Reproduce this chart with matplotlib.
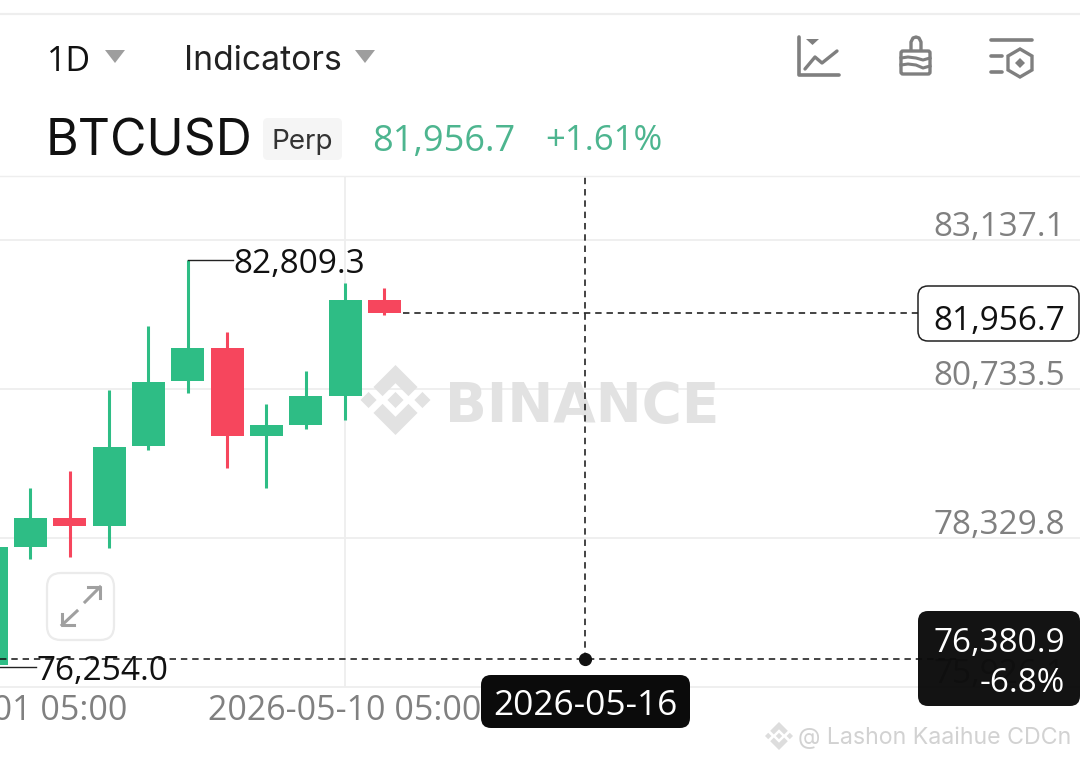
import matplotlib
matplotlib.use("Agg")
import matplotlib.pyplot as plt
from matplotlib.patches import FancyBboxPatch, Polygon
from matplotlib.transforms import blended_transform_factory

plt.rcParams['font.family'] = ['Open Sans', 'DejaVu Sans']
WORDS = ['Inter', 'DejaVu Sans']

# Daily candles
days = [1, 2, 3, 4, 5, 6, 7, 8, 9, 10, 11]
opens = [76281.0, 78184.6, 78652.4, 78523.3, 79813.9, 80862.5, 81394.8, 79975.2, 80152.7, 80620.5, 82169.2]
highs = [78300.0, 79136.4, 79410.6, 80717.3, 81749.8, 82809.3, 81652.9, 80491.5, 81023.8, 82443.4, 82362.8]
lows = [76254.0, 77991.0, 78023.0, 78168.4, 79749.4, 80668.9, 79458.9, 79136.4, 80088.0, 80233.4, 81927.0]
closes = [78184.6, 78652.4, 78523.3, 79797.8, 80846.3, 81394.8, 79975.2, 80152.7, 80620.5, 82169.2, 81956.7]

# Axis values
price_ticks = [83137.1, 80733.5, 78329.8, 75926.1]
price_labels = ["83,137.1", "80,733.5", "78,329.8", "75,926.1"]
date_ticks = [1, 10]
date_labels = ["2026-05-01 05:00", "2026-05-10 05:00"]

# Annotations and crosshair
high_value = 82809.3
low_value = 76254.0
last_price = 81956.7
cross_price = 76380.9
cross_day = 16.09

GREEN = "#2EBD85"
RED = "#F6465D"
GRID = "#EEEEEE"
GREY = "#808080"
ICON = "#7F7F7F"
TEXT = "#111111"
NUM_SIZE = 24

fig = plt.figure(figsize=(10.8, 7.6), dpi=100, facecolor="white")

# chart area runs over the full width, y pixels 177 to 687
ax = fig.add_axes([0, (760 - 687) / 760, 1, 510 / 760], zorder=1)
ax.set_xlim(1.2257, 28.6805)
ax.set_ylim(75926.1, 84153.4)
ax.axis("off")

# overlay in image pixels for the app buttons and labels
ui = fig.add_axes([0, 0, 1, 1], zorder=2)
ui.set_xlim(0, 1080)
ui.set_ylim(760, 0)
ui.axis("off")
ui.patch.set_alpha(0)

# grid
for p in price_ticks:
    ax.axhline(p, color=GRID, lw=1.3, zorder=0, clip_on=False)
ax.axvline(10, color=GRID, lw=1.3, zorder=0)
ui.plot([0, 1080], [14, 14], color=GRID, lw=1.6)
ui.plot([0, 1080], [176, 176], color=GRID, lw=1.0)


def logo(target, cx, cy, r, color):
    # Binance mark from unit shapes
    chevron = [(0, -1), (0.63, -0.37), (0.37, -0.11), (0, -0.48), (-0.37, -0.11), (-0.63, -0.37)]
    for sign in (1, -1):
        pts = [(cx + x * r, cy + sign * y * r) for x, y in chevron]
        target.add_patch(Polygon(pts, closed=True, fc=color, ec="none", transform=ui.transData, zorder=1.5))
    for dx in (-0.77, 0, 0.77):
        pts = [(cx + (dx + a) * r, cy + b * r) for a, b in [(0, -0.23), (0.23, 0), (0, 0.23), (-0.23, 0)]]
        target.add_patch(Polygon(pts, closed=True, fc=color, ec="none", transform=ui.transData, zorder=1.5))


# watermark
logo(ax, 395.5, 400, 35, "#E2E2E2")
ax.text(582.5, 401, "BINANCE", transform=ui.transData, color="#E2E2E2", fontsize=39.5, fontweight="bold",
        ha="center", va="center_baseline", zorder=1.5, family="DejaVu Sans")

# candles
for d, o, h, l, c in zip(days, opens, highs, lows, closes):
    col = GREEN if c >= o else RED
    ax.plot([d, d], [l, h], color=col, lw=2.2, solid_capstyle="butt", zorder=2)
    ax.bar(d, abs(c - o), bottom=min(o, c), width=0.84, color=col, zorder=3)

# high / low callouts
ax.plot([6, 7.15], [high_value, high_value], color="#222222", lw=1.0, zorder=4)
ax.annotate("82,809.3", (7.15, high_value), xytext=(0, 0), textcoords="offset pixels", color=TEXT,
            fontsize=NUM_SIZE, ha="left", va="center_baseline", zorder=5)
ax.plot([1, 2.15], [low_value, low_value], color="#222222", lw=1.0, zorder=4, clip_on=False)
ax.annotate("76,254.0", (2.15, low_value), xytext=(0, -1), textcoords="offset pixels", color=TEXT,
            fontsize=NUM_SIZE, ha="left", va="center_baseline", zorder=5)

# price axis labels sit above their grid lines
right = blended_transform_factory(ax.transAxes, ax.transData)
for p, s in zip(price_ticks, price_labels):
    ax.annotate(s, (1, p), xycoords=right, xytext=(-15, 16), textcoords="offset pixels", color=GREY,
                fontsize=NUM_SIZE, ha="right", va="center_baseline", annotation_clip=False, zorder=1)

# date axis labels
bottom = blended_transform_factory(ax.transData, ax.transAxes)
for d, s in zip(date_ticks, date_labels):
    ax.annotate(s, (d, 0), xycoords=bottom, xytext=(0, -20), textcoords="offset pixels", color=GREY,
                fontsize=24.5, ha="center", va="center_baseline", annotation_clip=False)

# last price and crosshair lines
dash = (0, (4.2, 3.2))
ax.plot([11.47, 25.6], [last_price, last_price], color="#111111", lw=1.1, ls=dash, zorder=4)
ax.plot([1.2257, 25.6], [cross_price, cross_price], color="#111111", lw=1.1, ls=dash, zorder=4)
ax.plot([cross_day, cross_day], [cross_price, 84153.4], color="#111111", lw=1.1, ls=dash, zorder=4)
ax.plot([cross_day], [cross_price], "o", color="#111111", ms=8.5, zorder=6)

# header
ui.text(47, 58, "1D", fontsize=24.5, color=TEXT, ha="left", va="center_baseline")
ui.text(184, 58, "Indicators", fontsize=24.2, color="#222222", ha="left", va="center_baseline", family=WORDS)
for x0 in (105, 355):
    ui.add_patch(Polygon([(x0, 50), (x0 + 20, 50), (x0 + 10, 63)], closed=True, fc="#9E9E9E", ec="none"))
ui.text(46, 137, "BTCUSD", fontsize=36, color=TEXT, ha="left", va="center_baseline", family=WORDS)
ui.add_patch(FancyBboxPatch((267, 122), 71, 34, boxstyle="round,pad=4,rounding_size=5", fc="#F5F5F5", ec="none"))
ui.text(302.5, 139, "Perp", fontsize=20, color="#333333", ha="center", va="center_baseline", family=WORDS)
ui.text(372, 137, "81,956.7", fontsize=26, color="#4DB58F", ha="left", va="center_baseline")
ui.text(545, 137, "+1.61%", fontsize=25, color="#4DB58F", ha="left", va="center_baseline")

# icon 1: chart
ui.plot([799, 799, 839], [37, 75, 75], color=ICON, lw=2.6, solid_capstyle="round", solid_joinstyle="round")
ui.plot([805, 815, 822, 837], [69, 57, 63, 51], color=ICON, lw=2.4, solid_capstyle="round")
ui.add_patch(Polygon([(806, 39), (819, 39), (812.5, 45)], closed=True, fc=ICON, ec="none"))

# icon 2: brush
ui.add_patch(FancyBboxPatch((901, 51), 29, 23, boxstyle="round,pad=0,rounding_size=2", fc="none", ec=ICON, lw=2.4))
ui.plot([911, 911, 913, 916, 919, 921, 921], [50, 42, 38, 37, 38, 42, 50], color=ICON, lw=2.4)
ui.plot([901, 908, 916, 923, 930], [58, 57, 58, 60, 58], color=ICON, lw=2.2)
ui.plot([901, 908, 916, 923, 930], [65, 64, 65, 68, 66], color=ICON, lw=2.2)

# icon 3: settings
ui.plot([991, 1032], [40, 40], color=ICON, lw=2.6, solid_capstyle="round")
ui.plot([991, 1002], [56, 56], color=ICON, lw=2.6, solid_capstyle="round")
ui.plot([991, 1002], [72, 72], color=ICON, lw=2.6, solid_capstyle="round")
ui.add_patch(Polygon([(1020, 49), (1032, 56), (1032, 70), (1020, 77), (1008, 70), (1008, 56)],
                     closed=True, fc="none", ec=ICON, lw=2.4))
ui.add_patch(Polygon([(1020, 58), (1025, 63), (1020, 68), (1015, 63)], closed=True, fc=ICON, ec="none"))

# expand button
ui.add_patch(FancyBboxPatch((59, 585), 43, 43, boxstyle="round,pad=12,rounding_size=14", fc="white", ec="#EBEBEB", lw=1.6))
ui.plot([85, 100], [602, 587], color="#A0A0A0", lw=2.2)
ui.plot([88, 100, 100], [587, 587, 598], color="#A0A0A0", lw=2.2)
ui.plot([77, 62], [611, 625], color="#A0A0A0", lw=2.2)
ui.plot([62, 62, 74], [614, 625, 625], color="#A0A0A0", lw=2.2)

# last price tag
ui.add_patch(FancyBboxPatch((928, 296), 141, 35, boxstyle="round,pad=10,rounding_size=10", fc="white", ec="#222222", lw=1.1))
ui.text(1065, 317, "81,956.7", fontsize=NUM_SIZE, color=TEXT, ha="right", va="center_baseline")

# crosshair tags
ui.add_patch(FancyBboxPatch((928, 621), 142, 75, boxstyle="round,pad=10,rounding_size=10", fc="#0B0B0B", ec="none", alpha=0.97))
ui.text(1065, 640, "76,380.9", fontsize=NUM_SIZE, color="white", ha="right", va="center_baseline")
ui.text(1065, 680, "-6.8%", fontsize=NUM_SIZE, color="white", ha="right", va="center_baseline")
ui.add_patch(FancyBboxPatch((491, 685), 189, 33, boxstyle="round,pad=10,rounding_size=10", fc="#0B0B0B", ec="none"))
ui.text(585.5, 702, "2026-05-16", fontsize=25.5, color="white", ha="center", va="center_baseline")

# author stamp
logo(ui, 779, 736, 14, "#DDDDDD")
ui.text(798, 735, "@ Lashon Kaaihue CDCn", fontsize=16.7, color="#D2D2D2", ha="left", va="center_baseline", family=WORDS)

fig.savefig("out.png", dpi=100)
